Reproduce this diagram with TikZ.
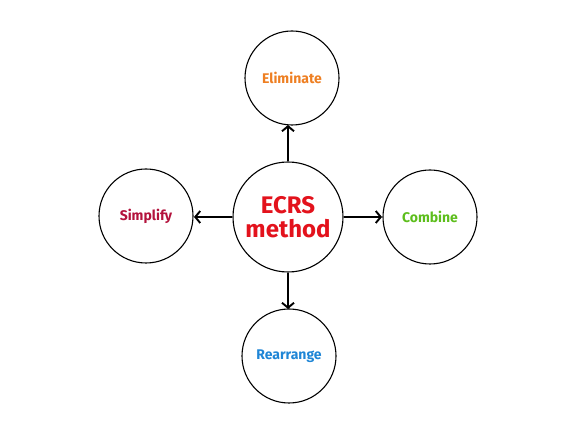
\documentclass[tikz,border=0pt]{standalone}
\usepackage{fontspec}
\setmainfont{Fira Sans}
\usetikzlibrary{arrows.meta}
\definecolor{corange}{HTML}{EE7F22}
\definecolor{ccrimson}{HTML}{B3123C}
\definecolor{cgreen}{HTML}{5DBE1C}
\definecolor{cblue}{HTML}{1F86D6}
\definecolor{cred}{HTML}{E3121C}
\tikzset{
  bubble/.style={circle, draw=black, line width=1.1pt, fill=white, minimum size=94pt, inner sep=0pt, font=\bfseries\fontsize{14}{16}\selectfont},
  hub/.style={circle, draw=black, line width=1.1pt, fill=white, minimum size=110pt, inner sep=0pt, align=center, font=\bfseries\fontsize{24}{24}\selectfont, text=cred},
  link/.style={line width=1.9pt, -{Straight Barb[length=5pt,width=12pt,line width=1.9pt]}}
}
\begin{document}
\begin{tikzpicture}[x=1pt,y=-1pt]
\useasboundingbox (0,0) rectangle (576,435);
\fill[white] (0,0) rectangle (576,435);
\node[hub] (c) at (288,217) {ECRS\\method};
\node[bubble, text=corange] (e) at (292,78) {Eliminate};
\node[bubble, text=ccrimson] (s) at (146,216) {Simplify};
\node[bubble, text=cgreen] (m) at (430,217) {Combine};
\node[bubble, text=cblue] (r) at (289,356) {Rearrange};
\coordinate (up) at (288,125);
\coordinate (lt) at (194,217);
\coordinate (rt) at (382,217);
\coordinate (dn) at (288,309);
\draw[link] (c.north) -- (up);
\draw[link] (c.west) -- (lt);
\draw[link] (c.east) -- (rt);
\draw[link] (c.south) -- (dn);
\end{tikzpicture}
\end{document}
